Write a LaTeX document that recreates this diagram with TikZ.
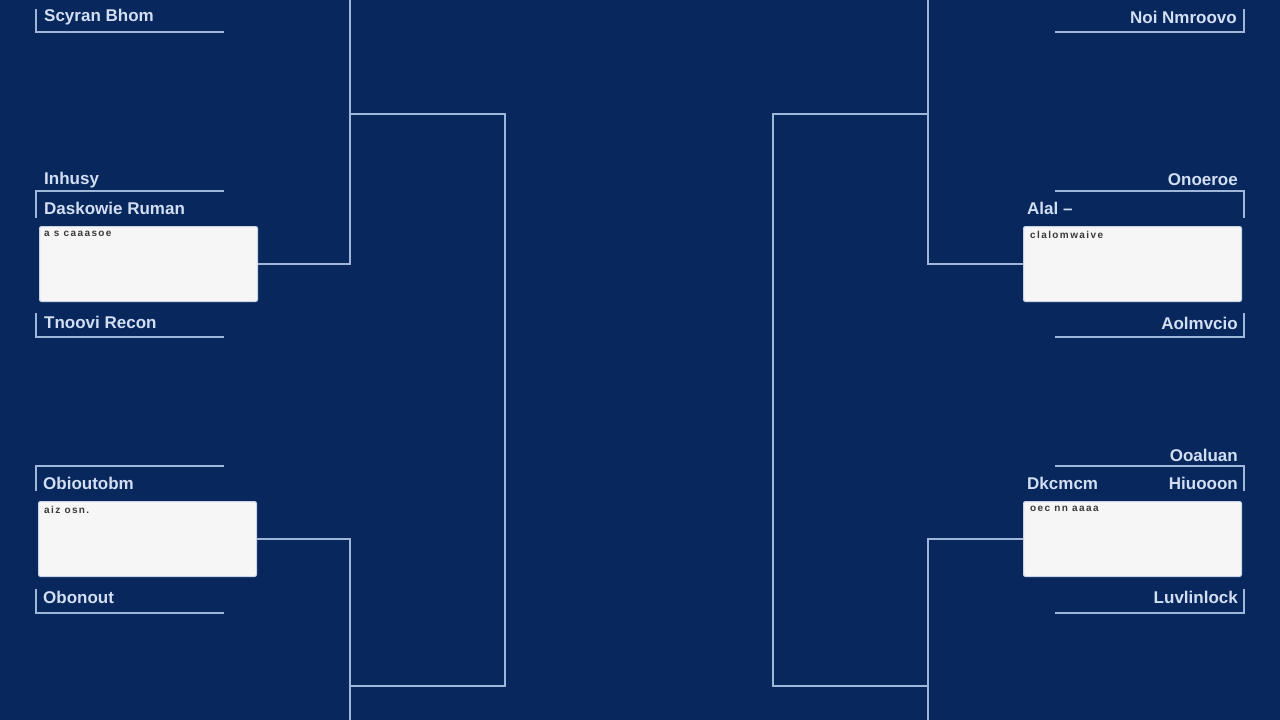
\documentclass[tikz,border=0pt]{standalone}
\usepackage{fontspec}
\setmainfont{Liberation Sans}
\newfontfamily\tinyfont[LetterSpace=14]{Liberation Sans}
\definecolor{bgc}{HTML}{07275D}
\definecolor{linec}{HTML}{9DB6DA}
\definecolor{txtc}{HTML}{D2DEF2}
\definecolor{cardc}{HTML}{F6F6F6}
\definecolor{cardb}{HTML}{C8D4E6}
\definecolor{tinyc}{HTML}{3A3A3A}
\begin{document}
\begin{tikzpicture}[x=1pt,y=-1pt,
  wire/.style={draw=linec, line width=2.2pt},
  lbl/.style={text=txtc, font=\bfseries\fontsize{17}{19}\selectfont, inner sep=0pt},
  card/.style={fill=cardc, draw=cardb, line width=1pt, rounded corners=2pt, minimum width=218pt, minimum height=75pt, inner sep=0pt},
  tiny/.style={text=tinyc, font=\tinyfont\bfseries\fontsize{10}{11}\selectfont, inner sep=0pt}]
\fill[bgc] (0,0) rectangle (1280,720);
\useasboundingbox (0,0) rectangle (1280,720);

% ---------- left half ----------
\node[card, anchor=north west] (bL1) at (39,226) {};
\node[tiny, anchor=north west] (tL1) at (44,231) {a s caaasoe};
\node[card, anchor=north west] (bL2) at (38,501) {};
\node[tiny, anchor=north west] (tL2) at (44,506) {aiz osn.};

\coordinate (lTop) at (350,0);
\coordinate (lBot) at (350,720);
\coordinate (lJ1) at (350,114);
\coordinate (lJ2) at (350,686);
\coordinate (lMid) at (505,400);
\draw[wire] (bL1.east) -| (lTop);
\draw[wire] (bL2.east) -| (lBot);
\draw[wire] (lJ1) -| (lMid) |- (lJ2);

\node[lbl, anchor=west] (nL1) at (44,17) {Scyran Bhom};
\coordinate (kL1a) at (36,9); \coordinate (kL1b) at (224,32);
\draw[wire, line width=1.8pt] (kL1a) |- (kL1b);

\node[lbl, anchor=west] (nL2) at (44,180) {Inhusy};
\node[lbl, anchor=west] (nL3) at (44,208) {Daskowie Ruman};
\coordinate (kL2a) at (224,191); \coordinate (kL2b) at (36,218);
\draw[wire, line width=1.8pt] (kL2a) -| (kL2b);

\node[lbl, anchor=west] (nL4) at (44,322) {Tnoovi Recon};
\coordinate (kL4a) at (36,313); \coordinate (kL4b) at (224,337);
\draw[wire, line width=1.8pt] (kL4a) |- (kL4b);

\node[lbl, anchor=west] (nL5) at (43,483) {Obioutobm};
\coordinate (kL5a) at (224,466); \coordinate (kL5b) at (36,491);
\draw[wire, line width=1.8pt] (kL5a) -| (kL5b);

\node[lbl, anchor=west] (nL6) at (43,597) {Obonout};
\coordinate (kL6a) at (36,589); \coordinate (kL6b) at (224,613);
\draw[wire, line width=1.8pt] (kL6a) |- (kL6b);

% ---------- right half ----------
\node[card, anchor=north west] (bR1) at (1023,226) {};
\node[tiny, anchor=north west] (tR1) at (1030,231) {clalomwaive};
\node[card, anchor=north west] (bR2) at (1023,501) {};
\node[tiny, anchor=north west] (tR2) at (1030,506) {oec nn aaaa};

\coordinate (rTop) at (928,0);
\coordinate (rBot) at (928,720);
\coordinate (rJ1) at (928,114);
\coordinate (rJ2) at (928,686);
\coordinate (rMid) at (773,400);
\draw[wire] (bR1.west) -| (rTop);
\draw[wire] (bR2.west) -| (rBot);
\draw[wire] (rJ1) -| (rMid) |- (rJ2);

\node[lbl, anchor=east] (nR1) at (1237,17) {Noi Nmroovo};
\coordinate (kR1a) at (1244,9); \coordinate (kR1b) at (1055,32);
\draw[wire, line width=1.8pt] (kR1a) |- (kR1b);

\node[lbl, anchor=east] (nR2) at (1238,180) {Onoeroe};
\node[lbl, anchor=west] (nR3) at (1027,208) {Alal –};
\coordinate (kR2a) at (1055,191); \coordinate (kR2b) at (1244,218);
\draw[wire, line width=1.8pt] (kR2a) -| (kR2b);

\node[lbl, anchor=east] (nR4) at (1238,323) {Aolmvcio};
\coordinate (kR4a) at (1244,313); \coordinate (kR4b) at (1055,337);
\draw[wire, line width=1.8pt] (kR4a) |- (kR4b);

\node[lbl, anchor=east] (nR5) at (1238,455) {Ooaluan};
\coordinate (kR5a) at (1055,466); \coordinate (kR5b) at (1244,491);
\draw[wire, line width=1.8pt] (kR5a) -| (kR5b);
\node[lbl, anchor=west] (nR6) at (1027,483) {Dkcmcm};
\node[lbl, anchor=east] (nR7) at (1238,483) {Hiuooon};

\node[lbl, anchor=east] (nR8) at (1238,597) {Luvlinlock};
\coordinate (kR8a) at (1244,589); \coordinate (kR8b) at (1055,613);
\draw[wire, line width=1.8pt] (kR8a) |- (kR8b);
\end{tikzpicture}
\end{document}
